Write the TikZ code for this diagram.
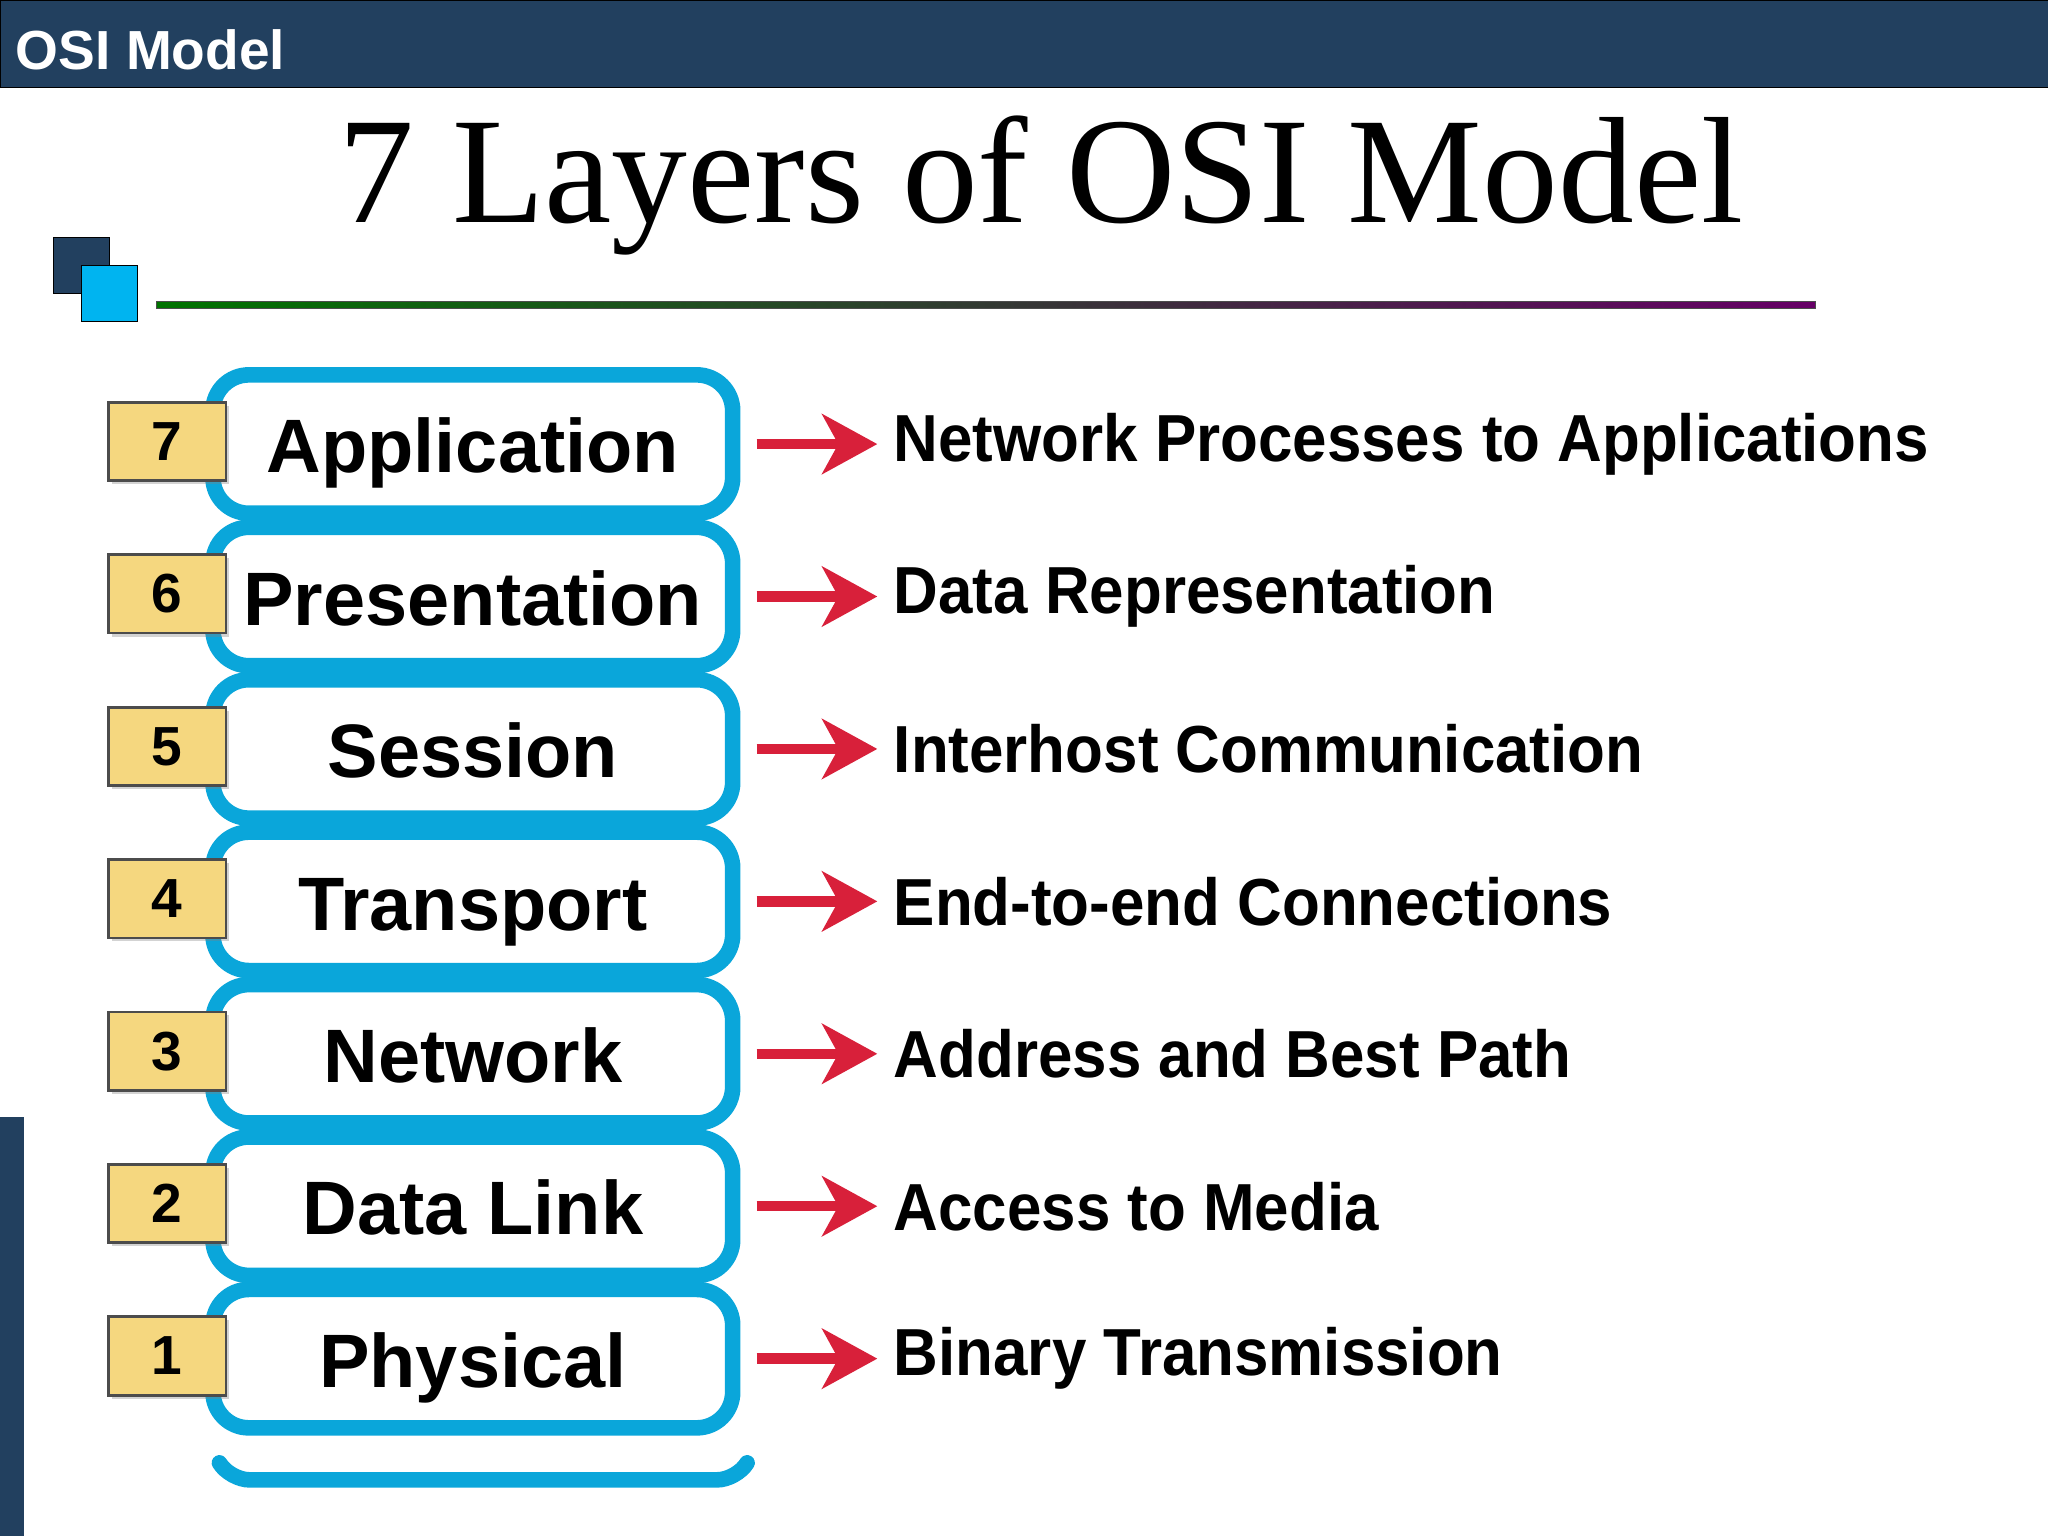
\documentclass[tikz,border=0pt]{standalone}
\usepackage{fontspec}
\setmainfont{Liberation Serif}
\setsansfont{Liberation Sans}
\newfontfamily\descfont[FakeStretch=0.93]{Liberation Sans}
\usetikzlibrary{arrows.meta,shadows}
\definecolor{osiheader}{HTML}{22405F}
\definecolor{osicyan}{HTML}{0AA6DA}
\definecolor{osisquare}{HTML}{00B4F0}
\definecolor{osinum}{HTML}{F5D77F}
\definecolor{osired}{HTML}{D8203A}

\begin{document}
\begin{tikzpicture}[
    x=0.02cm, y=-0.02cm,
    layerbox/.style={
        draw=osicyan,
        line width=6.8pt,
        rounded corners=0.55cm,
        fill=white,
        minimum width=7.96cm,
        minimum height=2.12cm,
        text height=25pt,
        text depth=0pt,
        font=\sffamily\bfseries\fontsize{33}{36}\selectfont
    },
    numbox/.style={
        draw=black!70,
        line width=1.2pt,
        fill=osinum,
        minimum width=1.8cm,
        minimum height=1.2cm,
        drop shadow={opacity=0.35,shadow xshift=1.5pt,shadow yshift=-1.5pt},
        font=\sffamily\bfseries\fontsize{24}{26}\selectfont
    },
    desclabel/.style={
        anchor=west,
        inner sep=0pt,
        font=\descfont\bfseries\fontsize{29}{31}\selectfont
    },
    osiarrow/.style={
        draw=osired,
        line width=4.5pt,
        -{Stealth[length=24pt,width=26pt,inset=7pt]}
    },
    ]
    \useasboundingbox (0,0) rectangle (1568,1176);
    % header
    \fill[osiheader, draw=black] (0,0) rectangle (1568,67);
    \node[anchor=west, text=white, font=\sffamily\bfseries\fontsize{24}{26}\selectfont] (header) at (6,38) {OSI Model};
    \node[font=\fontsize{66}{72}\selectfont] (title) at (797,142) {7 Layers of OSI Model};
    % decoration
    \fill[osiheader, draw=black] (41,182) rectangle (84,225);
    \fill[osisquare, draw=black] (62,203) rectangle (105,246);
    \shade[left color=green!45!black, right color=violet!80!black, draw=black!70] (120,231) rectangle (1390,236);
    \fill[osiheader] (0,855) rectangle (18,1176);
    % layers
    \draw[osicyan, line width=6.8pt, line cap=round, rounded corners=0.3cm]
        (168,1120) -- (176,1133) -- (564,1133) -- (572,1120);
    \foreach \n/\name/\desc [count=\i from 0] in {
        7/Application/Network Processes to Applications,
        6/Presentation/Data Representation,
        5/Session/Interhost Communication,
        4/Transport/End-to-end Connections,
        3/Network/Address and Best Path,
        2/Data Link/Access to Media,
        1/Physical/Binary Transmission}
    {
        \node[layerbox] (layer\n) at (362,340+116.7*\i) {\name};
        \node[numbox] (num\n) at (128,338+116.7*\i) {\n};
        \node[desclabel] (desc\n) at (684,340+116.7*\i) {\desc};
        \draw[osiarrow] ([xshift=7pt]layer\n.east) -- ([xshift=-7pt]desc\n.west);
    }
\end{tikzpicture}
\end{document}
